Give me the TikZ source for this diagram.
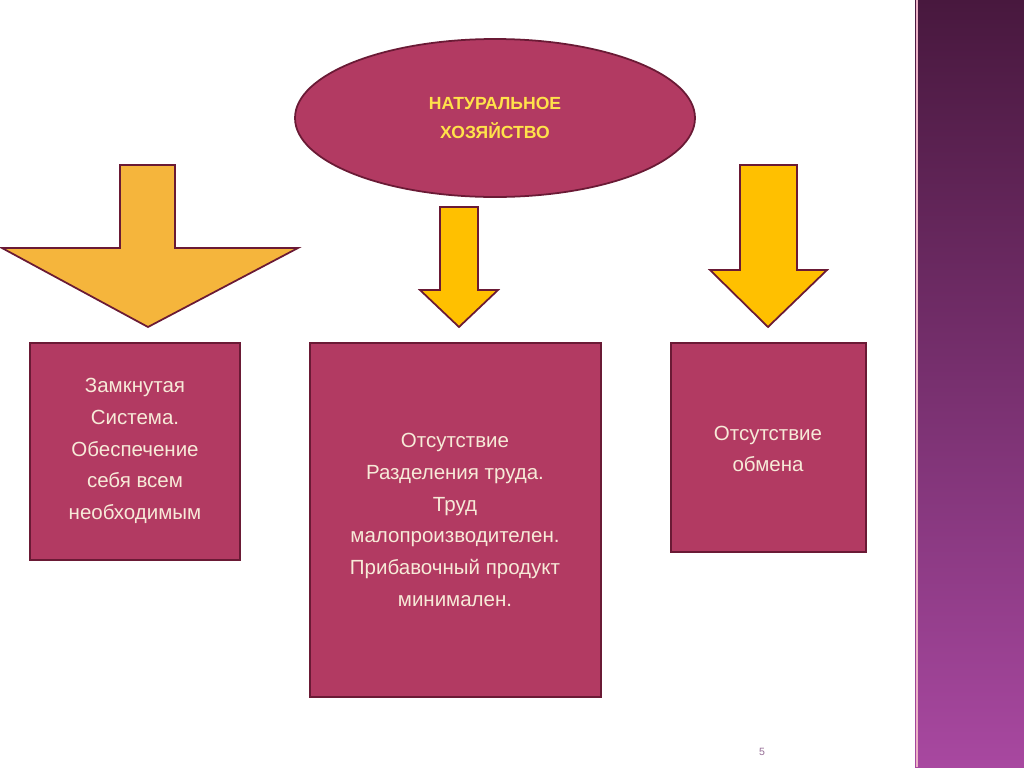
\documentclass[tikz,border=0pt]{standalone}
\usepackage{fontspec}
\setmainfont{Liberation Sans}
\usetikzlibrary{shapes.geometric}
\definecolor{boxred}{HTML}{B23A62}
\definecolor{boxline}{HTML}{6A1A35}
\definecolor{txtlight}{HTML}{F7EAD8}
\definecolor{titleyel}{HTML}{FFE24A}
\definecolor{arrowor}{HTML}{F5B53C}
\definecolor{arrowyel}{HTML}{FFC000}
\tikzset{
  infobox/.style={draw=boxline, line width=1.5pt, fill=boxred},
  infotext/.style={text=txtlight, align=center, font=\fontsize{17.5}{27}\selectfont},
  downarrow/.style={draw=boxline, line width=1.5pt, line join=miter}
}
\begin{document}
\begin{tikzpicture}[x=0.3mm,y=-0.3mm]
        \useasboundingbox (0,0) rectangle (1024,767);
        \fill[white] (0,0) rectangle (1024,767);
        % purple stripe on the right
        \shade[top color={rgb,255:red,72;green,24;blue,62}, bottom color={rgb,255:red,168;green,72;blue,160}] (915,0) rectangle (1024,767);
        \draw[white!70!purple, line width=1pt] (917,0) -- (917,767);

        % top ellipse
        \node[ellipse, draw=boxline, line width=1.5pt, fill=boxred, minimum width=400*0.3mm, minimum height=158*0.3mm,
              text=titleyel, align=center, font=\bfseries\fontsize{15}{25}\selectfont] (top) at (495,118) {НАТУРАЛЬНОЕ\\ХОЗЯЙСТВО};

        % arrows
        \draw[downarrow, fill=arrowor] (120,165) -- (175,165) -- (175,248) -- (298,248) -- (148,327) -- (2,248) -- (120,248) -- cycle;
        \draw[downarrow, fill=arrowyel] (440,207) -- (478,207) -- (478,290) -- (498,290) -- (459,327) -- (420,290) -- (440,290) -- cycle;
        \draw[downarrow, fill=arrowyel] (740,165) -- (797,165) -- (797,270) -- (827,270) -- (768,327) -- (710,270) -- (740,270) -- cycle;

        % boxes
        \draw[infobox] (30,343) rectangle (240,560);
        \draw[infobox] (310,343) rectangle (601,697);
        \draw[infobox] (671,343) rectangle (866,552);

        \node[infotext] (left) at (135,451) {Замкнутая\\Система.\\Обеспечение\\себя всем\\необходимым};
        \node[infotext] (mid) at (455,520) {Отсутствие\\Разделения труда.\\Труд\\малопроизводителен.\\Прибавочный продукт\\минимален.};
        \node[infotext] (right) at (768,449) {Отсутствие\\обмена};

        \node[text={rgb,255:red,150;green,110;blue,150}, font=\fontsize{9}{10}\selectfont] (page) at (762,752) {5};
\end{tikzpicture}
\end{document}
